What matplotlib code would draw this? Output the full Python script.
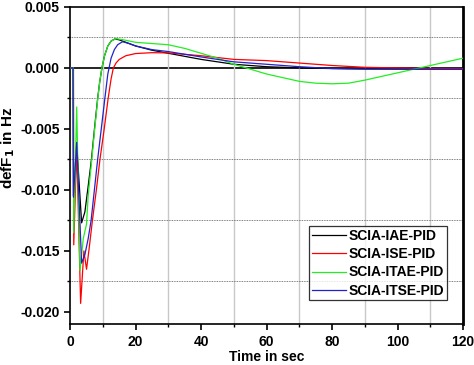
import matplotlib
matplotlib.use("Agg")
import matplotlib.pyplot as plt
from matplotlib.ticker import MultipleLocator

plt.rcParams['font.family'] = ['Liberation Sans', 'DejaVu Sans']
plt.rcParams['font.weight'] = 'bold'
plt.rcParams['mathtext.default'] = 'bf'

labels = ["SCIA-IAE-PID", "SCIA-ISE-PID", "SCIA-ITAE-PID", "SCIA-ITSE-PID"]
colors = ["black", "red", "#22ee22", "#2222cc"]

t_iae = [0, 0.9, 1.0, 2.0, 3.5, 4.5, 5.5, 6.5, 7.5, 8.4, 9.0, 9.7, 10.5, 11.5, 12.5, 13.7, 15, 17, 20, 25, 30, 40, 50, 60, 70, 80, 100, 120]
v_iae = [0, 0, -0.0105, -0.0062, -0.0127, -0.0118, -0.0097, -0.0075, -0.0048, -0.0025, -0.0012, 0.0, 0.0010, 0.0018, 0.0022, 0.00238, 0.0023, 0.0021, 0.0018, 0.00145, 0.0012, 0.0007, 0.0003, 0.0001, 0.0, -0.00005, -0.0001, -0.0001]

t_ise = [0, 1.0, 1.1, 2.0, 3.2, 4.2, 5.0, 5.8, 6.8, 8.0, 9.1, 10.4, 11.6, 12.5, 13.2, 14, 15, 17, 20, 25, 30, 40, 50, 60, 70, 80, 90, 100, 110, 120]
v_ise = [0, 0, -0.0145, -0.0065, -0.0193, -0.0150, -0.0165, -0.0148, -0.0125, -0.0100, -0.0075, -0.0050, -0.0025, -0.0009, 0.0, 0.0004, 0.0007, 0.0010, 0.00118, 0.00125, 0.00123, 0.0010, 0.0007, 0.0006, 0.0004, 0.0002, 0.00005, 0.0, -0.00005, -0.00005]

t_itae = [0, 1.0, 1.1, 2.0, 3.0, 4.0, 5.0, 5.5, 6.5, 7.5, 8.4, 9.0, 9.7, 10.5, 11.5, 12.5, 14, 16, 20, 25, 30, 35, 40, 45, 50, 55, 60, 65, 70, 75, 80, 85, 90, 95, 100, 105, 110, 115, 120]
v_itae = [0, 0, -0.0135, -0.0032, -0.0166, -0.0140, -0.0128, -0.0105, -0.0078, -0.0050, -0.0026, -0.0012, 0.0, 0.0010, 0.0018, 0.0022, 0.0024, 0.00232, 0.0021, 0.0020, 0.0019, 0.0016, 0.0012, 0.0008, 0.0003, -0.0001, -0.0005, -0.0008, -0.0011, -0.00125, -0.0013, -0.00125, -0.0010, -0.0007, -0.0004, -0.0001, 0.0002, 0.0005, 0.0008]

t_itse = [0, 0.9, 1.0, 2.0, 3.5, 4.5, 5.5, 6.4, 7.4, 8.4, 9.5, 10.6, 11.5, 12.5, 13.5, 14.5, 16, 18, 20, 25, 30, 40, 50, 60, 70, 80, 90, 120]
v_itse = [0, 0, -0.0106, -0.0061, -0.0160, -0.0153, -0.0140, -0.0125, -0.0100, -0.0075, -0.0050, -0.0025, -0.0005, 0.0008, 0.0015, 0.0019, 0.00215, 0.0020, 0.0018, 0.0015, 0.00134, 0.0009, 0.0005, 0.0003, 0.0001, -0.00005, -0.0001, -0.0001]

series = [(t_iae, v_iae), (t_ise, v_ise), (t_itae, v_itae), (t_itse, v_itse)]

fig = plt.figure(figsize=(4.74, 3.65), dpi=100)
ax = fig.add_axes([0.148, 0.112, 0.829, 0.869])

ax.set_xlim(0, 120)
ax.set_ylim(-0.021, 0.005)
ax.xaxis.set_major_locator(MultipleLocator(20))
ax.xaxis.set_minor_locator(MultipleLocator(10))
ax.yaxis.set_major_locator(MultipleLocator(0.005))
ax.yaxis.set_minor_locator(MultipleLocator(0.0025))

ax.grid(True, which='minor', axis='x', color='#c8c8c8', linestyle='-', linewidth=1.0)
ax.grid(True, which='minor', axis='y', color='#555555', linestyle=(0, (1, 1)), linewidth=0.6)
ax.axhline(0, color='black', linewidth=1.2, zorder=1)

for (t, v), c, lab in zip(series, colors, labels):
    ax.plot(t, v, color=c, linewidth=0.9, label=lab, zorder=3)

ax.tick_params(axis='both', which='major', direction='out', length=4, width=1.2, labelsize=10)
ax.tick_params(axis='both', which='minor', direction='out', length=2.5, width=1.0)
for lbl in ax.get_xticklabels() + ax.get_yticklabels():
    lbl.set_fontweight('bold')
ax.yaxis.set_major_formatter(matplotlib.ticker.FuncFormatter(lambda v, p: f"{v:.3f}"))

for s in ['left', 'bottom', 'top']:
    ax.spines[s].set_linewidth(1.2)
ax.spines['right'].set_linewidth(2.0)

ax.set_xlabel("Time in sec", fontsize=10, fontweight='bold', labelpad=1)
ax.set_ylabel("defF$_{1}$ in Hz", fontsize=11, fontweight='bold')
ax.yaxis.set_label_coords(-0.135, 0.555)

leg = ax.legend(loc='lower right', bbox_to_anchor=(0.96, 0.075), fontsize=10,
                frameon=True, fancybox=False, edgecolor='black', handlelength=2.4,
                handletextpad=0.25, borderpad=0.2, labelspacing=0.3, borderaxespad=0)
leg.get_frame().set_linewidth(0.9)
for txt in leg.get_texts():
    txt.set_fontweight('bold')

fig.savefig("out.png", dpi=100)
